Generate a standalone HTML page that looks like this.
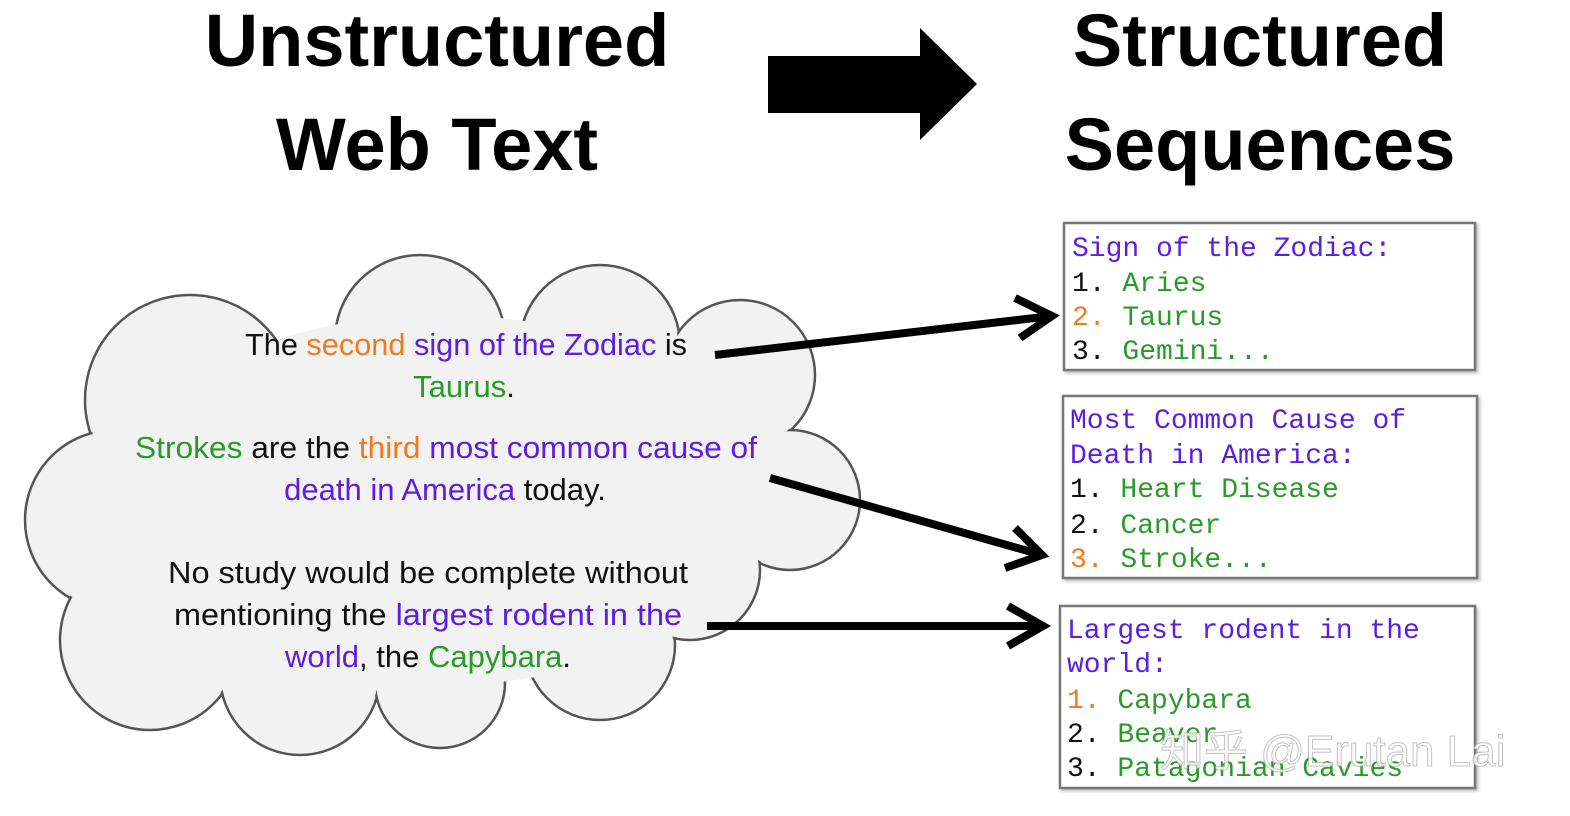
<!DOCTYPE html>
<html><head><meta charset="utf-8"><style>
html,body{margin:0;padding:0;background:#fff;}
svg{display:block}
.t{font-family:"Liberation Sans",sans-serif;font-size:31px;fill:#111;}
.m{font-family:"Liberation Mono",monospace;font-size:28px;}
.o{fill:#f07a1f}.p{fill:#5a1fe0}.g{fill:#2a9a2a}.k{fill:#111}
</style></head><body>
<svg width="1570" height="816" viewBox="0 0 1570 816" xmlns="http://www.w3.org/2000/svg">
<defs><filter id="sh" x="-5%" y="-5%" width="110%" height="110%"><feDropShadow dx="2" dy="2" stdDeviation="1.5" flood-color="#888" flood-opacity="0.6"/></filter></defs>
<g font-family="Liberation Sans,sans-serif" font-weight="bold" font-size="74" fill="#000" text-anchor="middle">
<text x="437" y="66">Unstructured</text>
<text x="437" y="170">Web Text</text>
<text x="1260" y="66">Structured</text>
<text x="1260" y="170">Sequences</text>
</g>
<polygon points="768,56 920,56 920,28 977,84 920,140 920,113 768,113" fill="#000"/>
<g stroke="#555" stroke-width="2.5" fill="#f2f2f2">
<circle cx="420" cy="340" r="85"/><circle cx="600" cy="345" r="80"/><circle cx="740" cy="375" r="75"/>
<circle cx="790" cy="500" r="70"/><circle cx="190" cy="400" r="105"/><circle cx="115" cy="520" r="90"/>
<circle cx="150" cy="640" r="90"/><circle cx="300" cy="675" r="80"/><circle cx="440" cy="683" r="65"/>
<circle cx="600" cy="645" r="75"/><circle cx="690" cy="570" r="70"/>
</g>
<g fill="#f2f2f2">
<circle cx="420" cy="340" r="83"/><circle cx="600" cy="345" r="78"/><circle cx="740" cy="375" r="73"/>
<circle cx="790" cy="500" r="68"/><circle cx="190" cy="400" r="103"/><circle cx="115" cy="520" r="88"/>
<circle cx="150" cy="640" r="88"/><circle cx="300" cy="675" r="78"/><circle cx="440" cy="683" r="63"/>
<circle cx="600" cy="645" r="73"/><circle cx="690" cy="570" r="68"/>
<ellipse cx="440" cy="500" rx="330" ry="185"/>
</g>
<g class="t" text-anchor="middle">
<text x="466" y="355" textLength="442" lengthAdjust="spacingAndGlyphs">The <tspan class="o">second</tspan> <tspan class="p">sign of the Zodiac</tspan> is</text>
<text x="464" y="397"><tspan class="g">Taurus</tspan>.</text>
<text x="446" y="458" textLength="622" lengthAdjust="spacingAndGlyphs"><tspan class="g">Strokes</tspan> are the <tspan class="o">third</tspan> <tspan class="p">most common cause of</tspan></text>
<text x="445" y="500"><tspan class="p">death in America</tspan> today.</text>
<text x="428" y="583" textLength="520" lengthAdjust="spacingAndGlyphs">No study would be complete without</text>
<text x="428" y="625" textLength="508" lengthAdjust="spacingAndGlyphs">mentioning the <tspan class="p">largest rodent in the</tspan></text>
<text x="428" y="667"><tspan class="p">world</tspan>, the <tspan class="g">Capybara</tspan>.</text>
</g>
<g stroke="#000" stroke-width="8" fill="none" stroke-linecap="butt">
<line x1="715" y1="355" x2="1052" y2="316"/>
<polyline points="1015,298 1052,316 1020,338"/>
<line x1="770" y1="478" x2="1042" y2="555"/>
<polyline points="1015,528 1042,555 1005,568"/>
<line x1="707" y1="626" x2="1043" y2="626"/>
<polyline points="1008,606 1043,626 1008,646"/>
</g>
<g fill="#fff" stroke="#777" stroke-width="2.5" filter="url(#sh)">
<rect x="1064" y="223" width="411" height="147"/>
<rect x="1063" y="396" width="414" height="182"/>
<rect x="1060" y="606" width="415" height="182"/>
</g>
<g class="m">
<text x="1072" y="256" class="p">Sign of the Zodiac:</text>
<text x="1072" y="291"><tspan class="k">1. </tspan><tspan class="g">Aries</tspan></text>
<text x="1072" y="325"><tspan class="o">2. </tspan><tspan class="g">Taurus</tspan></text>
<text x="1072" y="359"><tspan class="k">3. </tspan><tspan class="g">Gemini...</tspan></text>
<text x="1070" y="428" class="p">Most Common Cause of</text>
<text x="1070" y="463" class="p">Death in America:</text>
<text x="1070" y="497"><tspan class="k">1. </tspan><tspan class="g">Heart Disease</tspan></text>
<text x="1070" y="533"><tspan class="k">2. </tspan><tspan class="g">Cancer</tspan></text>
<text x="1070" y="567"><tspan class="o">3. </tspan><tspan class="g">Stroke...</tspan></text>
<text x="1067" y="638" class="p">Largest rodent in the</text>
<text x="1067" y="672" class="p">world:</text>
<text x="1067" y="708"><tspan class="o">1. </tspan><tspan class="g">Capybara</tspan></text>
<text x="1067" y="742"><tspan class="k">2. </tspan><tspan class="g">Beaver</tspan></text>
<text x="1067" y="776"><tspan class="k">3. </tspan><tspan class="g">Patagonian Cavies</tspan></text>
</g>
<text x="1160" y="766" font-family="Liberation Sans,'Noto Sans CJK SC',sans-serif" font-size="44" fill="#fff" fill-opacity="0.8" stroke="#999" stroke-opacity="0.6" stroke-width="1">知乎 @Erutan Lai</text>
</svg>
</body></html>
